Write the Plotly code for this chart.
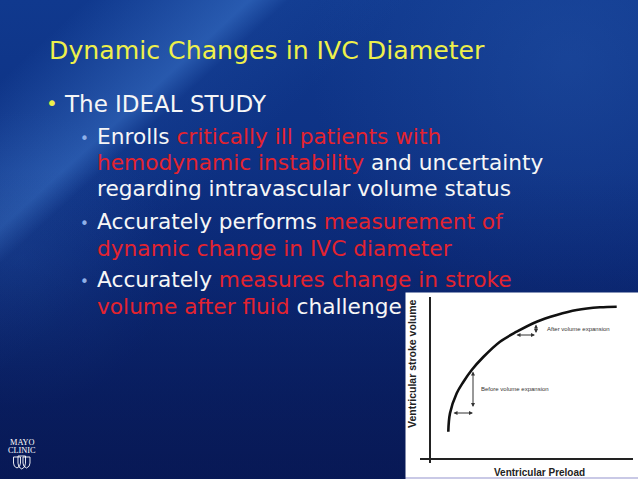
import urllib.parse
import plotly.graph_objects as go

W, H = 638, 479

# ---------------- data ----------------
# Frank-Starling curve (preload vs. stroke volume, arbitrary units)
preload = [18.3, 20.0, 26.7, 33.3, 41.7, 53.3, 70.0, 86.7, 106.7, 126.7, 146.7, 170.0, 186.7]
stroke_volume = [27.3, 45.7, 65.7, 77.0, 89.0, 102.0, 117.3, 127.3, 137.3, 144.0, 149.0, 151.7, 152.3]

# change arrows (before / after volume expansion)
before_preload = [22, 43]
before_sv = [52, 89]
after_preload = [85, 105]
after_sv = [126, 136]

title_text = "Dynamic Changes in IVC Diameter"
level1_text = "The IDEAL STUDY"
level2_lines = [
    [("Enrolls ", "w"), ("critically ill patients with", "r")],
    [("hemodynamic instability", "r"), (" and uncertainty", "w")],
    [("regarding intravascular volume status", "w")],
    [("Accurately performs ", "w"), ("measurement of", "r")],
    [("dynamic change in IVC diameter", "r")],
    [("Accurately ", "w"), ("measures change in stroke", "r")],
    [("volume after fluid", "r"), (" challenge", "w")],
]
level2_bullets = [True, False, False, True, False, True, False]
x_label = "Ventricular Preload"
y_label = "Ventricular stroke volume"
before_label = "Before volume expansion"
after_label = "After volume expansion"
logo_lines = ["MAYO", "CLINIC"]

# ---------------- style ----------------
YELLOW = "#eef04a"
WHITE = "#f6f6f6"
RED = "#e3232f"
LBLUE = "#8fb0e8"
FONT = "DejaVu Sans"
COL = {"w": WHITE, "r": RED}


def px(x):
    return x / W


def py(y):
    return 1 - y / H


svg = (
    "<svg xmlns='http://www.w3.org/2000/svg' width='638' height='479' viewBox='0 0 638 479' preserveAspectRatio='none'>"
    "<defs>"
    "<linearGradient id='a' gradientUnits='userSpaceOnUse' x1='0' y1='0' x2='0' y2='479'>"
    "<stop offset='0' stop-color='#10398e'/><stop offset='0.55' stop-color='#0c2c7c'/>"
    "<stop offset='1' stop-color='#0a1d5c'/></linearGradient>"
    "<linearGradient id='b' gradientUnits='userSpaceOnUse' x1='176' y1='-81' x2='324' y2='81'>"
    "<stop offset='0' stop-color='#4a8ae0' stop-opacity='0'/>"
    "<stop offset='0.5' stop-color='#4a8ae0' stop-opacity='0.42'/>"
    "<stop offset='0.62' stop-color='#4a8ae0' stop-opacity='0.06'/>"
    "<stop offset='1' stop-color='#4a8ae0' stop-opacity='0'/></linearGradient>"
    "<linearGradient id='c' gradientUnits='userSpaceOnUse' x1='0' y1='170' x2='0' y2='479'>"
    "<stop offset='0' stop-color='#061550' stop-opacity='0'/>"
    "<stop offset='1' stop-color='#061550' stop-opacity='0.55'/></linearGradient>"
    "<radialGradient id='d' cx='570' cy='60' r='260' gradientUnits='userSpaceOnUse'>"
    "<stop offset='0' stop-color='#2a5cb0' stop-opacity='0.35'/>"
    "<stop offset='1' stop-color='#2a5cb0' stop-opacity='0'/></radialGradient>"
    "<radialGradient id='e' cx='20' cy='260' r='150' gradientUnits='userSpaceOnUse'>"
    "<stop offset='0' stop-color='#2a5cb0' stop-opacity='0.25'/>"
    "<stop offset='1' stop-color='#2a5cb0' stop-opacity='0'/></radialGradient>"
    "</defs>"
    "<rect width='638' height='479' fill='url(#a)'/>"
    "<rect width='638' height='479' fill='url(#d)'/>"
    "<rect width='638' height='479' fill='url(#e)'/>"
    "<rect width='638' height='479' fill='url(#b)'/>"
    "<rect width='638' height='479' fill='url(#c)'/>"
    "</svg>"
)
bg_uri = "data:image/svg+xml;charset=utf-8," + urllib.parse.quote(svg)

fig = go.Figure()

fig.add_trace(go.Scatter(
    x=preload, y=stroke_volume, mode="lines",
    line=dict(color="#111111", width=2.6, shape="spline", smoothing=1.0),
    hoverinfo="skip", showlegend=False,
))

annotations = []

# slide title
annotations.append(dict(
    text=title_text, x=px(47), y=py(50.4), xref="paper", yref="paper",
    xanchor="left", yanchor="middle", showarrow=False,
    font=dict(family=FONT, size=25.2, color=YELLOW),
))
# level 1 bullet
annotations.append(dict(
    text="\u2022", x=px(52), y=py(103), xref="paper", yref="paper",
    xanchor="center", yanchor="middle", showarrow=False,
    font=dict(family=FONT, size=20, color=YELLOW),
))
annotations.append(dict(
    text=level1_text, x=px(62), y=py(103.7), xref="paper", yref="paper",
    xanchor="left", yanchor="middle", showarrow=False,
    font=dict(family=FONT, size=23, color=WHITE),
))

baselines = [144, 170, 196.5, 229, 256, 287, 314]
FS2 = 21.7
for parts, base, has_bullet in zip(level2_lines, baselines, level2_bullets):
    html = "".join(
        "<span style='color:%s'>%s</span>" % (COL[c], t.replace(" ", "\u00a0") if t.startswith(" ") or t.endswith(" ") else t)
        for t, c in parts
    )
    annotations.append(dict(
        text=html, x=px(94.5), y=py(base - 0.346 * FS2), xref="paper", yref="paper",
        xanchor="left", yanchor="middle", showarrow=False,
        font=dict(family=FONT, size=FS2, color=WHITE),
    ))
    if has_bullet:
        annotations.append(dict(
            text="\u2022", x=px(84), y=py(base - 5.5), xref="paper", yref="paper",
            xanchor="center", yanchor="middle", showarrow=False,
            font=dict(family=FONT, size=15, color=LBLUE),
        ))

# inset axis titles
annotations.append(dict(
    text="<b>%s</b>" % x_label, x=109, y=-13.5, xref="x", yref="y",
    xanchor="center", yanchor="middle", showarrow=False,
    font=dict(family="Liberation Sans", size=10, color="#222222"),
))
annotations.append(dict(
    text="<b>%s</b>" % y_label, x=-18, y=95, xref="x", yref="y",
    xanchor="center", yanchor="middle", showarrow=False, textangle=-90,
    font=dict(family="Liberation Sans", size=10.5, color="#222222"),
))
annotations.append(dict(
    text=before_label, x=49, y=70, xref="x", yref="y",
    xanchor="left", yanchor="middle", showarrow=False,
    font=dict(family="Liberation Sans", size=6, color="#333333"),
))
annotations.append(dict(
    text=after_label, x=115, y=130, xref="x", yref="y",
    xanchor="left", yanchor="middle", showarrow=False,
    font=dict(family="Liberation Sans", size=6, color="#333333"),
))

# double-headed arrows
arrow_style = dict(xref="x", yref="y", axref="x", ayref="y", text="", showarrow=True,
                   arrowhead=2, startarrowhead=2, arrowside="end+start",
                   arrowsize=0.8, startarrowsize=0.8, arrowwidth=1, arrowcolor="#333333")
annotations.append(dict(x=before_preload[1], y=46, ax=before_preload[0], ay=46, **arrow_style))
annotations.append(dict(x=43, y=before_sv[0], ax=43, ay=before_sv[1], **arrow_style))
annotations.append(dict(x=after_preload[1], y=124, ax=after_preload[0], ay=124, **arrow_style))
annotations.append(dict(x=106, y=after_sv[0], ax=106, ay=after_sv[1], **arrow_style))

# Mayo Clinic wordmark
for line, yc in zip(logo_lines, [442.5, 450.5]):
    annotations.append(dict(
        text=line, x=px(22), y=py(yc), xref="paper", yref="paper",
        xanchor="center", yanchor="middle", showarrow=False,
        font=dict(family="Liberation Serif", size=8.3, color="#ffffff"),
    ))

shapes = []
# white inset panel
shapes.append(dict(type="rect", xref="paper", yref="paper", x0=px(405.5), x1=1, y0=py(477), y1=py(292.5),
                   fillcolor="#ffffff", line=dict(width=0), layer="below"))
shapes.append(dict(type="rect", xref="paper", yref="paper", x0=px(405.5), x1=1, y0=0, y1=py(477),
                   fillcolor="#c9c9e6", line=dict(width=0), layer="below"))
# inset axes
shapes.append(dict(type="line", xref="x", yref="y", x0=0, x1=0, y0=-4, y1=162,
                   line=dict(color="#222222", width=2)))
shapes.append(dict(type="line", xref="x", yref="y", x0=-10, x1=203, y0=0, y1=0,
                   line=dict(color="#222222", width=2)))


# Mayo shields
def shield(x0, w, top, h):
    p = "M %.5f,%.5f L %.5f,%.5f L %.5f,%.5f " % (px(x0), py(top), px(x0 + w), py(top),
                                                   px(x0 + w), py(top + h * 0.55))
    p += "Q %.5f,%.5f %.5f,%.5f " % (px(x0 + w), py(top + h * 0.9), px(x0 + w / 2), py(top + h))
    p += "Q %.5f,%.5f %.5f,%.5f Z" % (px(x0), py(top + h * 0.9), px(x0), py(top + h * 0.55))
    return p


for x0, w, top, h in [(13.5, 7, 457, 11), (23.0, 7, 457, 11), (18.0, 7.5, 456, 13)]:
    shapes.append(dict(type="path", xref="paper", yref="paper", path=shield(x0, w, top, h),
                       line=dict(color="#ffffff", width=0.9), fillcolor="rgba(0,0,0,0)"))

fig.update_layout(
    width=W, height=H,
    margin=dict(l=0, r=0, t=0, b=0),
    paper_bgcolor="#0c2d7e",
    plot_bgcolor="rgba(0,0,0,0)",
    showlegend=False,
    xaxis=dict(domain=[px(405), 1], range=[-25, 208], visible=False, fixedrange=True),
    yaxis=dict(domain=[0, 186 / H], range=[-20, 166], visible=False, fixedrange=True),
    annotations=annotations,
    shapes=shapes,
    images=[dict(source=bg_uri, xref="paper", yref="paper", x=0, y=1, sizex=1, sizey=1,
                 xanchor="left", yanchor="top", sizing="stretch", layer="below")],
)

fig.write_html(
    "out.html",
    config={"displayModeBar": False},
    post_script="document.body.style.margin='0';document.body.style.overflow='hidden';",
)
